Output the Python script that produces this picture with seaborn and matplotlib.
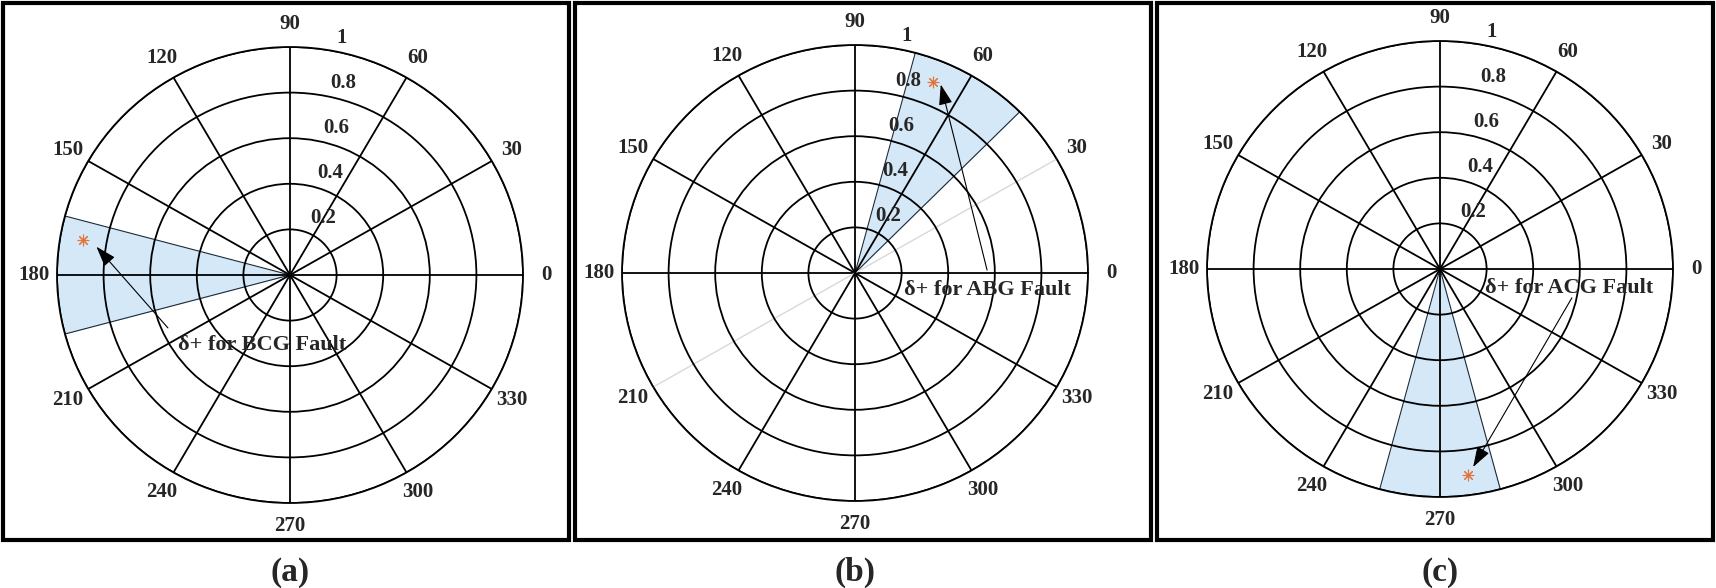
import numpy as np
import pandas as pd
import seaborn as sns
import matplotlib
matplotlib.use("Agg")
import matplotlib.pyplot as plt
from matplotlib.patches import Rectangle

# ---------------- data ----------------
panel_labels = ["(a)", "(b)", "(c)"]
fault_names = ["BCG", "ABG", "ACG"]
sector_start_deg = [165, 45, 255]
sector_end_deg = [195, 75, 285]
star_angle_deg = [170.2, 68.2, 277.6]
star_radius = [0.90, 0.90, 0.91]
arrow_head_angle_deg = [171.5, 66.0, 279.3]
arrow_head_radius = [0.84, 0.905, 0.88]
arrow_tail_angle_deg = [203.9, 1.3, 347.4]
arrow_tail_radius = [0.573, 0.567, 0.58]
note_angle_deg = [212.5, 340.3, 336.7]
note_radius = [0.571, 0.223, 0.21]
theta_ticks = [0, 30, 60, 90, 120, 150, 180, 210, 240, 270, 300, 330]
r_ticks = [0.2, 0.4, 0.6, 0.8, 1.0]
r_tick_labels = ["0.2", "0.4", "0.6", "0.8", "1"]
faint_spoke_panel = 1          # panel (b): the 30/210 spoke is drawn light grey
faint_spoke_angles = [30, 210]

# ---------------- style ----------------
sns.set_theme(style="white")
plt.rcParams["font.family"] = ["Liberation Serif", "DejaVu Serif"]
plt.rcParams["font.weight"] = "bold"

W, H = 1716, 588
fig = plt.figure(figsize=(W / 100, H / 100), dpi=100)
fig.patch.set_facecolor("white")

centers = [(290, 275), (855, 273), (1440, 269)]
RX, RY = 233, 228
frames = [(3, 569), (575, 1151), (1157, 1713)]
frame_top, frame_bottom = 2.5, 539.5

fill_color = "#d5e8f8"
star_color = "#e2733a"

for i in range(3):
    cx, cy = centers[i]
    ax = fig.add_axes([(cx - RX) / W, (H - cy - RY) / H, 2 * RX / W, 2 * RY / H],
                      projection="polar")
    ax.set_aspect("auto")
    ax.set_facecolor("white")
    ax.set_ylim(0, 1)
    ax.set_xticks(np.radians(theta_ticks))
    ax.set_xticklabels([])
    ax.set_yticks(r_ticks)
    ax.set_yticklabels([])
    ax.grid(True, color="black", linewidth=1.3)
    ax.spines["polar"].set_color("black")
    ax.spines["polar"].set_linewidth(1.3)
    ax.set_axisbelow(False)

    if i == faint_spoke_panel:
        glines = ax.xaxis.get_gridlines()
        for a in faint_spoke_angles:
            k = theta_ticks.index(a)
            glines[k].set_color("#d9d9d9")
            glines[k].set_linewidth(1.0)

    # shaded sector
    th = np.radians(np.linspace(sector_start_deg[i], sector_end_deg[i], 120))
    ax.fill_between(th, 0, 1, color=fill_color, linewidth=0, zorder=0.5)
    for a in (sector_start_deg[i], sector_end_deg[i]):
        ax.plot(np.radians([a, a]), [0, 1], color="#1c2a38", linewidth=0.8, zorder=1)

    # star marker
    sns.scatterplot(x=[np.radians(star_angle_deg[i])], y=[star_radius[i]], ax=ax,
                    marker=(8, 2, 0), s=60, color=star_color, linewidth=0.8,
                    legend=False, zorder=5, clip_on=False)

    # arrow
    ax.annotate("",
                xy=(np.radians(arrow_head_angle_deg[i]), arrow_head_radius[i]),
                xytext=(np.radians(arrow_tail_angle_deg[i]), arrow_tail_radius[i]),
                arrowprops=dict(arrowstyle="-|>,head_length=0.9,head_width=0.3",
                                mutation_scale=14, lw=0.8, color="black",
                                shrinkA=0, shrinkB=0),
                zorder=6)

    # annotation text
    ax.text(np.radians(note_angle_deg[i]), note_radius[i],
            "\u03b4+ for %s Fault" % fault_names[i],
            ha="left", va="center", fontsize=16, fontweight="bold", zorder=7)

    # angular tick labels
    for t in theta_ticks:
        ax.text(np.radians(t), 1.1, str(t), ha="center", va="center",
                fontsize=15, fontweight="bold", clip_on=False)

    # radial tick labels (placed along ~82 degrees, left aligned)
    for r, lab in zip(r_ticks, r_tick_labels):
        x = 0.139 * r + 0.06
        y = 0.99 * r + 0.05
        ax.text(np.arctan2(y, x), np.hypot(x, y), lab, ha="left", va="center",
                fontsize=15, fontweight="bold", clip_on=False)

    # panel label
    fig.text(cx / W, 1 - 572 / H, panel_labels[i], ha="center", va="center",
             fontsize=24, fontweight="bold")

    # frame
    x0, x1 = frames[i]
    fig.add_artist(Rectangle((x0 / W, (H - frame_bottom) / H),
                             (x1 - x0) / W, (frame_bottom - frame_top) / H,
                             transform=fig.transFigure, fill=False,
                             edgecolor="black", linewidth=3))

fig.savefig("out.png", dpi=100)
